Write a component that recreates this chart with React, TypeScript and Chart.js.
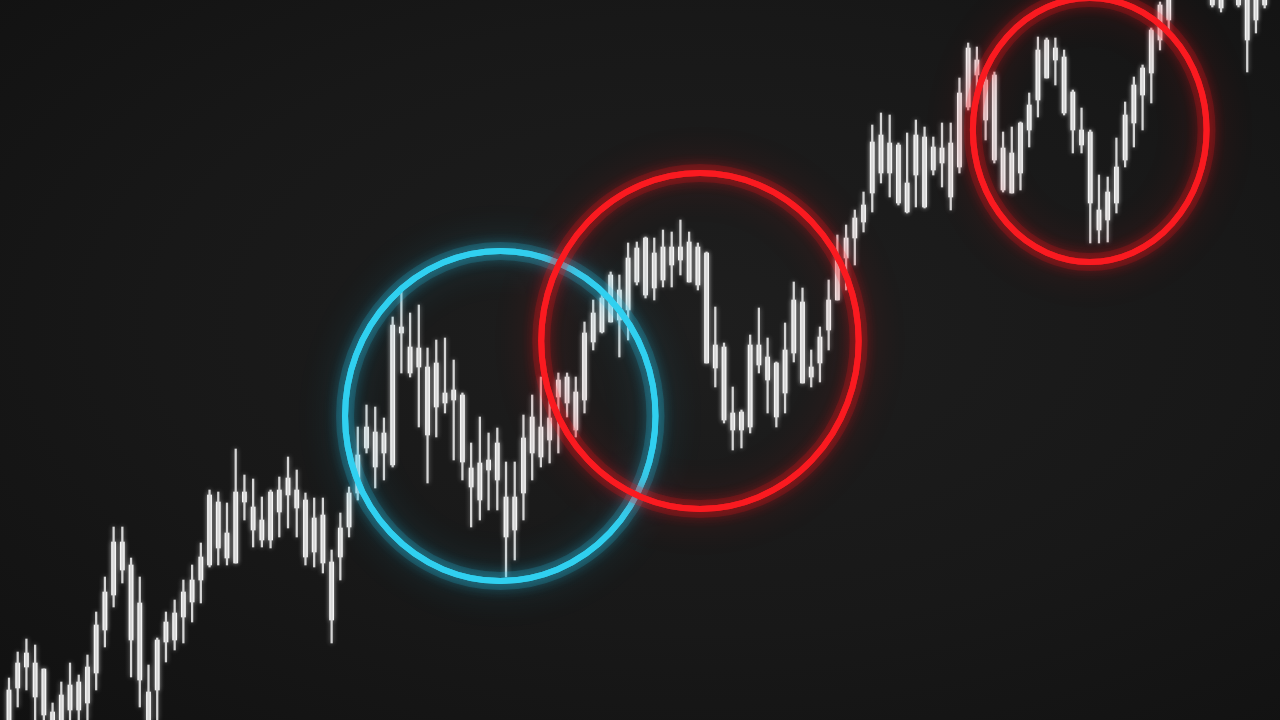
import { useEffect, useRef } from 'react';
import { Chart, registerables } from 'chart.js';

Chart.register(...registerables);

// Candle prices (one entry per session)
const open = [
  -2, 32, 53, 57, 51, 8, -2, 10, 10, 17,
  47, 90, 125, 150, 155, 117, 28, 30, 78, 80,
  103, 118, 140, 155, 218, 187, 157, 218, 190, 180,
  180, 208, 225, 212, 220, 202, 205, 158, 163, 193,
  227, 272, 253, 267, 255, 387, 373, 372, 353, 313,
  317, 330, 325, 252, 220, 250, 240, 223, 223, 227,
  267, 263, 280, 323, 317, 290, 320, 378, 388, 398,
  400, 410, 438, 425, 432, 440, 455, 460, 438, 435,
  467, 375, 373, 307, 290, 293, 355, 363, 357, 327,
  367, 337, 353, 357, 390, 420, 462, 482, 498, 527,
  547, 547, 575, 537, 545, 583, 573, 557, 523, 553,
  613, 660, 640, 645, 572, 527, 547, 590, 620, 642,
  672, 663, 628, 590, 588, 510, 500, 517, 560, 597,
  625, 647, 680, 700, 740, 750, 770, 760, 740, 735,
  728, 715, 730, 725, 730,
];
const high = [
  42, 68, 81, 75, 51, 17, 38, 57, 45, 65,
  108, 143, 193, 193, 162, 143, 55, 82, 108, 120,
  140, 155, 177, 230, 228, 217, 271, 245, 241, 223,
  230, 243, 263, 250, 227, 222, 222, 170, 207, 233,
  293, 315, 313, 302, 403, 430, 407, 415, 372, 380,
  382, 360, 327, 277, 303, 287, 292, 258, 258, 305,
  325, 343, 320, 347, 347, 343, 398, 420, 425, 448,
  445, 477, 478, 483, 482, 490, 488, 500, 488, 477,
  468, 413, 377, 333, 310, 385, 412, 382, 358, 397,
  438, 432, 370, 393, 440, 485, 495, 510, 528, 595,
  607, 605, 577, 587, 600, 593, 583, 597, 597, 642,
  677, 673, 650, 648, 588, 593, 598, 627, 683, 682,
  682, 670, 630, 612, 590, 545, 543, 582, 618, 643,
  655, 692, 718, 740, 780, 790, 780, 770, 750, 750,
  760, 745, 750, 740, 745,
];
const low = [
  -10, 13, 30, -5, -10, -15, -10, 0, -2, 0,
  30, 73, 113, 137, 43, 13, -10, 0, 58, 70,
  77, 98, 117, 153, 155, 155, 157, 200, 173, 173,
  172, 183, 192, 183, 155, 153, 147, 77, 140, 183,
  220, 267, 232, 240, 253, 347, 343, 293, 237, 283,
  307, 260, 240, 193, 200, 210, 210, 143, 160, 200,
  240, 253, 257, 267, 303, 283, 307, 370, 387, 398,
  363, 380, 435, 422, 420, 433, 433, 445, 438, 430,
  357, 333, 297, 270, 272, 287, 347, 307, 293, 307,
  358, 337, 333, 338, 370, 420, 430, 455, 488, 508,
  537, 523, 515, 507, 513, 512, 545, 533, 510, 547,
  610, 620, 580, 557, 528, 527, 530, 573, 603, 642,
  635, 605, 567, 567, 477, 477, 478, 507, 553, 573,
  590, 617, 670, 685, 730, 735, 732, 725, 713, 708,
  723, 713, 648, 687, 712,
];
const close = [
  30, 57, 67, 23, 5, -10, 25, 35, 38, 53,
  95, 128, 178, 178, 80, 40, -2, 80, 98, 107,
  128, 140, 163, 225, 172, 162, 228, 228, 213, 200,
  228, 230, 242, 230, 163, 168, 157, 100, 192, 227,
  265, 293, 288, 287, 395, 393, 347, 353, 285, 357,
  327, 320, 258, 233, 257, 260, 277, 183, 190, 282,
  303, 293, 302, 340, 343, 328, 387, 407, 422, 445,
  430, 462, 472, 482, 467, 473, 473, 473, 478, 473,
  357, 352, 300, 290, 308, 375, 375, 340, 303, 370,
  420, 418, 343, 383, 420, 463, 482, 502, 515, 578,
  585, 577, 517, 508, 585, 513, 550, 572, 577, 627,
  672, 645, 600, 560, 530, 567, 597, 615, 670, 680,
  660, 607, 590, 575, 517, 490, 528, 553, 605, 635,
  652, 690, 715, 730, 770, 780, 740, 735, 715, 712,
  750, 730, 680, 700, 715,
];

// Highlight rings (centre session, centre price, radius in sessions, radius in price)
const ringX = [56.34, 79.24, 123.94];
const ringY = [304, 379, 590];
const ringRX = [17.8, 18.2, 13.4];
const ringRY = [165, 168, 132];
const ringColor = ['#30d0f0', '#fa1a20', '#fa1a20'];
const ringHalo = ['rgba(40,200,240,', 'rgba(255,20,30,', 'rgba(255,20,30,'];

const xMin = -1.03;
const xMax = 145.76;
const yMin = 0;
const yMax = 720;

const candleGlow = {
  id: 'candleGlow',
  beforeDatasetsDraw(chart: any) {
    const ctx = chart.ctx;
    ctx.save();
    ctx.shadowColor = 'rgba(255,255,255,0.45)';
    ctx.shadowBlur = 5;
  },
  afterDatasetsDraw(chart: any) {
    chart.ctx.restore();
  },
};

const rings = {
  id: 'rings',
  afterDatasetsDraw(chart: any) {
    const ctx = chart.ctx;
    const xs = chart.scales.x;
    const ys = chart.scales.y;
    ringX.forEach((cx, i) => {
      const px = xs.getPixelForValue(cx);
      const py = ys.getPixelForValue(ringY[i]);
      const rx = Math.abs(xs.getPixelForValue(cx + ringRX[i]) - px);
      const ry = Math.abs(ys.getPixelForValue(ringY[i] + ringRY[i]) - py);
      const path = () => {
        ctx.beginPath();
        ctx.ellipse(px, py, rx, ry, 0, 0, Math.PI * 2);
      };
      ctx.save();
      // wide soft halo
      ctx.shadowColor = ringHalo[i] + '0.9)';
      ctx.shadowBlur = 40;
      ctx.strokeStyle = ringHalo[i] + '0.18)';
      ctx.lineWidth = 18;
      path();
      ctx.stroke();
      // main stroke
      ctx.shadowBlur = 16;
      ctx.strokeStyle = ringColor[i];
      ctx.lineWidth = 6;
      path();
      ctx.stroke();
      ctx.shadowBlur = 0;
      path();
      ctx.stroke();
      ctx.restore();
    });
  },
};

export default function App() {
  const ref = useRef<HTMLCanvasElement | null>(null);

  useEffect(() => {
    if (!ref.current) return;
    const wicks = high.map((h, i) => ({ x: i, y: [low[i], h] }));
    const bodies = open.map((o, i) => ({ x: i, y: [Math.min(o, close[i]), Math.max(o, close[i])] }));
    const chart = new Chart(ref.current, {
      type: 'bar',
      data: {
        datasets: [
          {
            label: 'wick',
            data: wicks as any,
            backgroundColor: '#d6d6d6',
            barThickness: 1.6,
            grouped: false,
            borderWidth: 0,
          } as any,
          {
            label: 'body',
            data: bodies as any,
            backgroundColor: '#f4f4f4',
            barThickness: 4.2,
            grouped: false,
            borderWidth: 0,
          } as any,
        ],
      },
      options: {
        animation: false,
        responsive: false,
        devicePixelRatio: 1,
        layout: { padding: 0 },
        plugins: { legend: { display: false }, tooltip: { enabled: false } },
        events: [],
        scales: {
          x: { type: 'linear', min: xMin, max: xMax, offset: false, display: false },
          y: { type: 'linear', min: yMin, max: yMax, display: false },
        },
      },
      plugins: [candleGlow, rings],
    });
    return () => chart.destroy();
  }, []);

  return (
    <div
      style={{
        position: 'fixed',
        left: 0,
        top: 0,
        width: 1280,
        height: 720,
        overflow: 'hidden',
        background: 'radial-gradient(ellipse at 55% 45%, #1e1e1e 0%, #181818 55%, #111111 100%)',
      }}
    >
      <canvas ref={ref} width={1280} height={720} style={{ display: 'block' }} />
    </div>
  );
}
